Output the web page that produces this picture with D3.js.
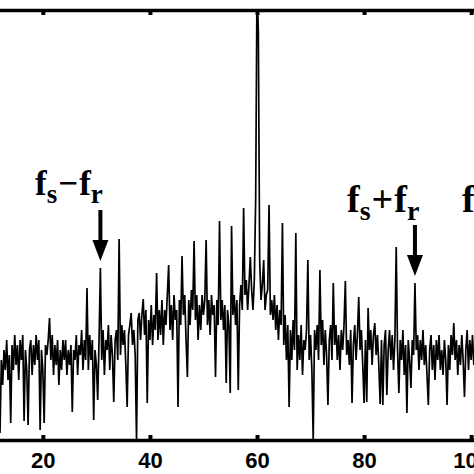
<!DOCTYPE html>
<html>
<head>
<meta charset="utf-8">
<script src="https://cdn.jsdelivr.net/npm/d3@7"></script>
<style>
  html, body { margin: 0; padding: 0; background: #fff; overflow: hidden; }
  svg { display: block; }
</style>
</head>
<body>
<div id="chart"></div>
<script>
// ---- data ----
const freqStart = 12;      // Hz, first spectrum bin
const freqStep = 0.25;     // Hz, bin spacing
// amplitude (dB) per bin
const amplitude = [
  -84.6, -70, -75, -68,
  -72, -66, -74, -69,
  -82.6, -67, -72, -65,
  -71, -67, -74, -66,
  -70, -65, -82.2, -68,
  -72, -83, -68, -66,
  -73, -67, -71, -65,
  -70, -66, -84, -68,
  -72, -82.6, -67, -69,
  -66, -61.6, -70, -65,
  -73, -67, -71, -66,
  -75, -68, -72, -66,
  -70, -66, -73, -68,
  -71, -67, -80.4, -68,
  -70, -65, -73, -67,
  -69, -64, -72, -66,
  -70, -55.6, -72, -65,
  -70, -66, -82, -68,
  -71, -78, -66, -51.6,
  -70, -64, -73, -66,
  -68, -63, -72, -65,
  -69, -78.4, -66, -64,
  -70, -45.8, -69, -63,
  -67, -64, -71, -79.4,
  -65, -63, -60.6, -67,
  -64, -69, -86, -62,
  -60.6, -66, -61, -57.8,
  -65, -60, -78.6, -62,
  -66, -59, -67, -61,
  -64, -52.6, -66, -60,
  -65, -58, -67, -60,
  -63, -57, -51, -64,
  -59, -66, -57, -62,
  -60, -79.4, -58, -63,
  -49.2, -61, -57, -66,
  -73.4, -58, -63, -56,
  -60, -46.2, -62, -57,
  -66, -59, -64, -57,
  -61, -58, -46, -63,
  -58, -65, -57, -61,
  -59, -73.4, -58, -63,
  -42.2, -62, -58, -64,
  -59, -74.6, -60, -63,
  -76.6, -43.2, -61, -57,
  -63, -58, -76, -59,
  -55, -60, -39.6, -57,
  -54, -60, -55, -49.4,
  -56, -60, -54, -38,
  5, -4.4, -50, -58,
  -55, -50, -60, -57,
  -56, -39, -61, -58,
  -62, -57, -64, -59,
  -66, -60, -63, -42.6,
  -67, -61, -70, -63,
  -79.4, -64, -70, -62,
  -68, -44.6, -72, -65,
  -70, -63, -73, -66,
  -68, -64, -50, -70,
  -65, -72, -86, -64,
  -68, -63, -70, -52,
  -67, -62, -71, -64,
  -69, -79, -66, -63,
  -70, -54.6, -67, -63,
  -70, -65, -72, -64,
  -68, -63, -54.2, -69,
  -66, -71, -64, -78.6,
  -67, -63, -70, -65,
  -57.4, -68, -64, -71,
  -78.6, -66, -78.4, -59.6,
  -68, -64, -71, -65,
  -62.6, -69, -65, -71,
  -78.8, -66, -79, -67,
  -64, -77, -68, -64,
  -70, -65, -72, -66,
  -47.4, -68, -76.6, -66,
  -70, -64, -73, -67,
  -80.6, -66, -70, -75.6,
  -66, -69, -54.6, -68,
  -65, -72, -66, -70,
  -64, -71, -67, -73,
  -79, -68, -65, -72,
  -67, -74, -66, -70,
  -65, -72, -68, -73,
  -66, -70, -79, -67,
  -72, -65, -69, -62.6,
  -70, -66, -73, -67,
  -71, -65, -70, -77.4,
  -68, -64, -72, -66,
  -70, -65, -71
];
const xTicks = [20, 40, 60, 80, 100];
const annFreqs = [30.75, 89.5];          // fs - fr, fs + fr
const annLabels = [["f", "s", "\u2212", "f", "r"], ["f", "s", "+", "f", "r"]];

// ---- chart ----
const W = 474, H = 474;
const svg = d3.select("#chart").append("svg")
  .attr("width", W).attr("height", H)
  .style("overflow", "hidden");

const x = d3.scaleLinear().domain([0, 120]).range([-64.25, 578.25]);
const y = d3.scaleLinear().domain([-86, 0]).range([440, 10]);

const data = amplitude.map((v, i) => ({ f: freqStart + i * freqStep, v }));

svg.append("clipPath").attr("id", "plotclip")
  .append("rect").attr("x", -100).attr("y", 10).attr("width", 700).attr("height", 430);

svg.append("path")
  .datum(data)
  .attr("clip-path", "url(#plotclip)")
  .attr("fill", "none")
  .attr("stroke", "#000")
  .attr("stroke-width", 1.7)
  .attr("stroke-linejoin", "miter")
  .attr("d", d3.line().x(d => x(d.f)).y(d => y(d.v)));

// bottom axis
const gx = svg.append("g").attr("transform", "translate(0,440)")
  .call(d3.axisBottom(x).tickValues(xTicks).tickSizeInner(-5).tickSizeOuter(0).tickPadding(12));
gx.select(".domain").attr("stroke-width", 3.5);
gx.selectAll(".tick line").attr("stroke-width", 4);
gx.selectAll(".tick text")
  .attr("font-family", "'Liberation Sans', Arial, sans-serif")
  .attr("font-weight", "bold")
  .attr("font-size", 22)
  .attr("fill", "#000");

// top frame
const gt = svg.append("g").attr("transform", "translate(0,10)")
  .call(d3.axisTop(x).tickValues(xTicks).tickSizeInner(-5).tickSizeOuter(0).tickFormat(""));
gt.select(".domain").attr("stroke-width", 3.5);
gt.selectAll(".tick line").attr("stroke-width", 4);

// annotations
const annCfg = [
  { x0: 35, base: 195, size: 35, sub: 27 },
  { x0: 347, base: 212, size: 38, sub: 28 }
];
annFreqs.forEach((f, k) => {
  const cfg = annCfg[k];
  const t = svg.append("text")
    .attr("x", cfg.x0).attr("y", cfg.base)
    .attr("font-family", "'Liberation Serif', 'Times New Roman', serif")
    .attr("font-weight", "bold")
    .attr("font-size", cfg.size)
    .attr("fill", "#000");
  const parts = annLabels[k];
  const shift = cfg.size * 0.22;
  t.append("tspan").text(parts[0]);
  t.append("tspan").attr("font-size", cfg.sub).attr("dy", shift).text(parts[1]);
  t.append("tspan").attr("dy", -shift).attr("dx", 1).text(parts[2]);
  t.append("tspan").attr("dx", 1).text(parts[3]);
  t.append("tspan").attr("font-size", cfg.sub).attr("dy", shift).text(parts[4]);

  // arrow
  const idx = Math.round((f - freqStart) / freqStep);
  const ax = x(f);
  const tip = y(amplitude[idx]) - 7;
  const headLen = 21, headW = 8, shaft = 51;
  svg.append("line")
    .attr("x1", ax).attr("x2", ax)
    .attr("y1", tip - shaft).attr("y2", tip - headLen + 2)
    .attr("stroke", "#000").attr("stroke-width", 4);
  svg.append("path")
    .attr("d", `M${ax - headW},${tip - headLen} L${ax + headW},${tip - headLen} L${ax},${tip} Z`)
    .attr("fill", "#000");
});

// partially visible third label at right edge
svg.append("text")
  .attr("x", 462).attr("y", 212)
  .attr("font-family", "'Liberation Serif', 'Times New Roman', serif")
  .attr("font-weight", "bold")
  .attr("font-size", 38)
  .attr("fill", "#000")
  .text("f");
</script>
</body>
</html>
